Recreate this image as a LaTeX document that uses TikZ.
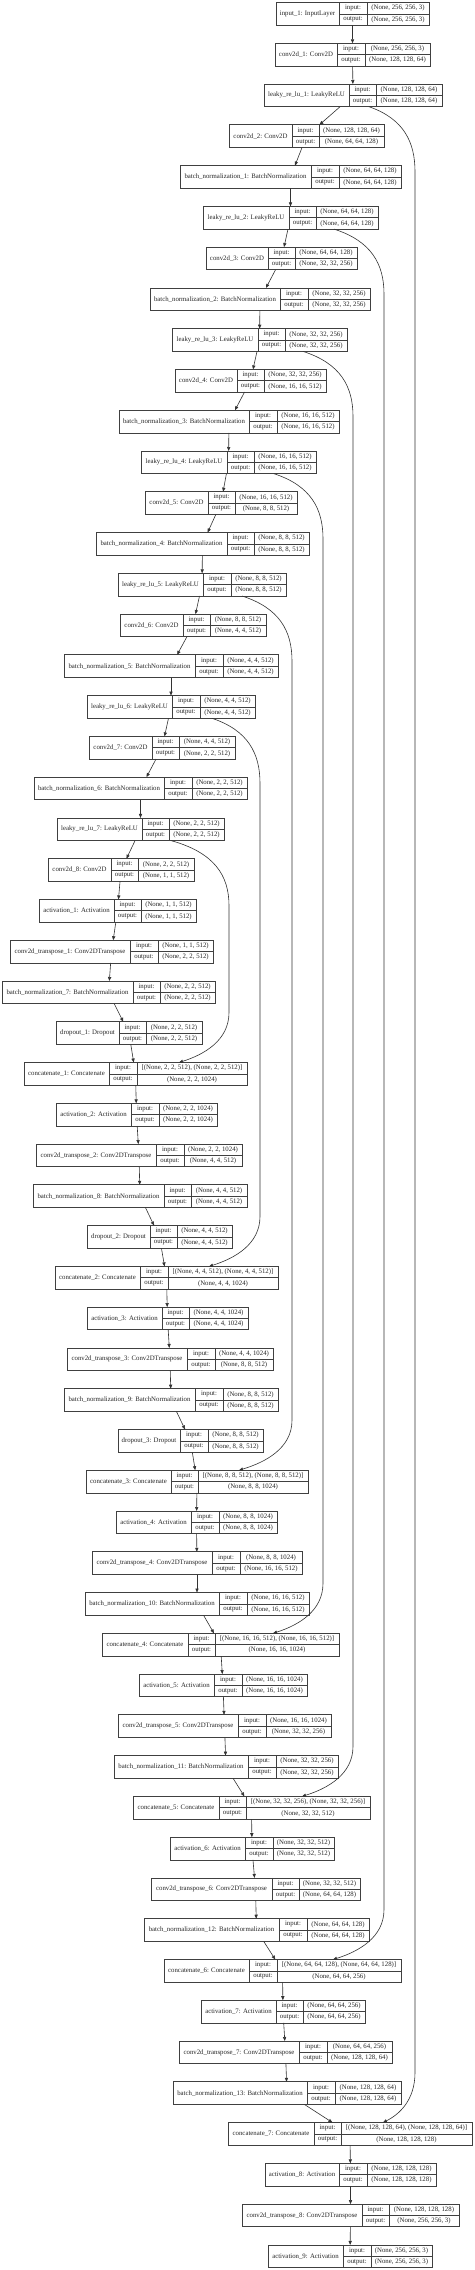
\documentclass[tikz,border=0pt]{standalone}
\usepackage{fontspec}
\setmainfont{Liberation Serif}
\usetikzlibrary{arrows.meta,calc}
\tikzset{
  box/.style={draw=black!75, line width=0.7pt, inner sep=0pt, outer sep=0pt, rectangle},
  divl/.style={draw=black!75, line width=0.7pt},
  txt/.style={inner sep=0pt, text=black!85, font=\fontsize{6.8}{8}\selectfont},
  edge/.style={draw=black!80, line width=0.6pt, -{Triangle[length=4pt,width=3.2pt]}},
}
\newcommand\lay[9]{%
  \pgfmathsetmacro\lyT{#6}%
  \pgfmathsetmacro\lyB{#6+22.7}%
  \pgfmathsetmacro\lyM{#6+11.35}%
  \pgfmathsetmacro\lyA{#6+5.675}%
  \pgfmathsetmacro\lyC{#6+17.025}%
  \pgfmathsetmacro\lyW{#5-#2}%
  \node[box, minimum width=\lyW pt, minimum height=22.7pt, anchor=north west] (#1) at (#2,\lyT) {};
  \draw[divl] (#3,\lyT) -- (#3,\lyB) (#4,\lyT) -- (#4,\lyB) (#3,\lyM) -- (#5,\lyM);
  \node[txt] (#1-n) at ({(#2+#3)/2},\lyM) {#7};
  \node[txt] (#1-i) at ({(#3+#4)/2},\lyA) {input:};
  \node[txt] (#1-o) at ({(#3+#4)/2},\lyC) {output:};
  \node[txt] (#1-iv) at ({(#4+#5)/2},\lyA) {#8};
  \node[txt] (#1-ov) at ({(#4+#5)/2},\lyC) {#9};
}
\newcommand\skipe[5]{%
  \draw[edge] let \p1=([xshift=#2pt]#1.south), \p2=([xshift=#4pt]#3.north) in
    (\p1) .. controls ({\x1+0.75*(#5pt-\x1)},{\y1-12pt}) and (#5pt,{\y1-35pt}) .. (#5pt,{\y1-65pt})
    -- (#5pt,{\y2+50pt}) .. controls (#5pt,{\y2+22pt}) and ({\x2+0.5*(#5pt-\x2)},{\y2+8pt}) .. (\p2);
}
\begin{document}
\begin{tikzpicture}[x=1pt,y=-1pt]
\fill[white] (0,0) rectangle (474,2270);
\useasboundingbox (0,0) rectangle (474,2270);
\lay{n0}{276}{339}{367}{429}{2.5}{input\_1: InputLayer}{(None, 256, 256, 3)}{(None, 256, 256, 3)}
\lay{n1}{275}{337}{365}{430}{43.3}{conv2d\_1: Conv2D}{(None, 256, 256, 3)}{(None, 128, 128, 64)}
\lay{n2}{264}{349}{376}{442}{84.0}{leaky\_re\_lu\_1: LeakyReLU}{(None, 128, 128, 64)}{(None, 128, 128, 64)}
\lay{n3}{229}{292}{319}{384}{124.8}{conv2d\_2: Conv2D}{(None, 128, 128, 64)}{(None, 64, 64, 128)}
\lay{n4}{180}{311}{339}{401}{165.6}{batch\_normalization\_1: BatchNormalization}{(None, 64, 64, 128)}{(None, 64, 64, 128)}
\lay{n5}{203}{289}{316}{378}{206.4}{leaky\_re\_lu\_2: LeakyReLU}{(None, 64, 64, 128)}{(None, 64, 64, 128)}
\lay{n6}{206}{268}{295}{357}{247.1}{conv2d\_3: Conv2D}{(None, 64, 64, 128)}{(None, 32, 32, 256)}
\lay{n7}{150}{280}{308}{370}{287.9}{batch\_normalization\_2: BatchNormalization}{(None, 32, 32, 256)}{(None, 32, 32, 256)}
\lay{n8}{172}{258}{285}{347}{328.7}{leaky\_re\_lu\_3: LeakyReLU}{(None, 32, 32, 256)}{(None, 32, 32, 256)}
\lay{n9}{175}{237}{264}{326}{369.4}{conv2d\_4: Conv2D}{(None, 32, 32, 256)}{(None, 16, 16, 512)}
\lay{n10}{119}{249}{277}{339}{410.2}{batch\_normalization\_3: BatchNormalization}{(None, 16, 16, 512)}{(None, 16, 16, 512)}
\lay{n11}{141}{227}{254}{316}{451.0}{leaky\_re\_lu\_4: LeakyReLU}{(None, 16, 16, 512)}{(None, 16, 16, 512)}
\lay{n12}{145}{208}{235}{297}{491.7}{conv2d\_5: Conv2D}{(None, 16, 16, 512)}{(None, 8, 8, 512)}
\lay{n13}{96}{227}{254}{309}{532.5}{batch\_normalization\_4: BatchNormalization}{(None, 8, 8, 512)}{(None, 8, 8, 512)}
\lay{n14}{118}{203}{231}{286}{573.3}{leaky\_re\_lu\_5: LeakyReLU}{(None, 8, 8, 512)}{(None, 8, 8, 512)}
\lay{n15}{120}{183}{210}{266}{614.1}{conv2d\_6: Conv2D}{(None, 8, 8, 512)}{(None, 4, 4, 512)}
\lay{n16}{64}{195}{223}{278}{654.8}{batch\_normalization\_5: BatchNormalization}{(None, 4, 4, 512)}{(None, 4, 4, 512)}
\lay{n17}{87}{172}{200}{255}{695.6}{leaky\_re\_lu\_6: LeakyReLU}{(None, 4, 4, 512)}{(None, 4, 4, 512)}
\lay{n18}{89}{152}{179}{235}{736.4}{conv2d\_7: Conv2D}{(None, 4, 4, 512)}{(None, 2, 2, 512)}
\lay{n19}{34}{164}{192}{247}{777.1}{batch\_normalization\_6: BatchNormalization}{(None, 2, 2, 512)}{(None, 2, 2, 512)}
\lay{n20}{57}{142}{169}{224}{817.9}{leaky\_re\_lu\_7: LeakyReLU}{(None, 2, 2, 512)}{(None, 2, 2, 512)}
\lay{n21}{48}{111}{138}{194}{858.7}{conv2d\_8: Conv2D}{(None, 2, 2, 512)}{(None, 1, 1, 512)}
\lay{n22}{39}{114}{141}{196}{899.4}{activation\_1: Activation}{(None, 1, 1, 512)}{(None, 1, 1, 512)}
\lay{n23}{10}{130}{158}{213}{940.2}{conv2d\_transpose\_1: Conv2DTranspose}{(None, 1, 1, 512)}{(None, 2, 2, 512)}
\lay{n24}{2}{133}{160}{215}{981.0}{batch\_normalization\_7: BatchNormalization}{(None, 2, 2, 512)}{(None, 2, 2, 512)}
\lay{n25}{56}{119}{146}{202}{1021.8}{dropout\_1: Dropout}{(None, 2, 2, 512)}{(None, 2, 2, 512)}
\lay{n26}{24}{109}{137}{247}{1062.5}{concatenate\_1: Concatenate}{[(None, 2, 2, 512), (None, 2, 2, 512)]}{(None, 2, 2, 1024)}
\lay{n27}{56}{131}{159}{217}{1103.3}{activation\_2: Activation}{(None, 2, 2, 1024)}{(None, 2, 2, 1024)}
\lay{n28}{36}{156}{184}{242}{1144.1}{conv2d\_transpose\_2: Conv2DTranspose}{(None, 2, 2, 1024)}{(None, 4, 4, 512)}
\lay{n29}{33}{164}{191}{247}{1184.8}{batch\_normalization\_8: BatchNormalization}{(None, 4, 4, 512)}{(None, 4, 4, 512)}
\lay{n30}{87}{150}{177}{232}{1225.6}{dropout\_2: Dropout}{(None, 4, 4, 512)}{(None, 4, 4, 512)}
\lay{n31}{55}{140}{168}{278}{1266.4}{concatenate\_2: Concatenate}{[(None, 4, 4, 512), (None, 4, 4, 512)]}{(None, 4, 4, 1024)}
\lay{n32}{87}{162}{189}{248}{1307.1}{activation\_3: Activation}{(None, 4, 4, 1024)}{(None, 4, 4, 1024)}
\lay{n33}{67}{187}{215}{273}{1347.9}{conv2d\_transpose\_3: Conv2DTranspose}{(None, 4, 4, 1024)}{(None, 8, 8, 512)}
\lay{n34}{64}{195}{223}{278}{1388.7}{batch\_normalization\_9: BatchNormalization}{(None, 8, 8, 512)}{(None, 8, 8, 512)}
\lay{n35}{118}{180}{208}{263}{1429.5}{dropout\_3: Dropout}{(None, 8, 8, 512)}{(None, 8, 8, 512)}
\lay{n36}{86}{171}{198}{308}{1470.2}{concatenate\_3: Concatenate}{[(None, 8, 8, 512), (None, 8, 8, 512)]}{(None, 8, 8, 1024)}
\lay{n37}{116}{191}{219}{277}{1511.0}{activation\_4: Activation}{(None, 8, 8, 1024)}{(None, 8, 8, 1024)}
\lay{n38}{92}{212}{240}{302}{1551.8}{conv2d\_transpose\_4: Conv2DTranspose}{(None, 8, 8, 1024)}{(None, 16, 16, 512)}
\lay{n39}{85}{219}{247}{309}{1592.5}{batch\_normalization\_10: BatchNormalization}{(None, 16, 16, 512)}{(None, 16, 16, 512)}
\lay{n40}{102}{188}{215}{339}{1633.3}{concatenate\_4: Concatenate}{[(None, 16, 16, 512), (None, 16, 16, 512)]}{(None, 16, 16, 1024)}
\lay{n41}{139}{214}{242}{307}{1674.1}{activation\_5: Activation}{(None, 16, 16, 1024)}{(None, 16, 16, 1024)}
\lay{n42}{118}{238}{266}{331}{1714.8}{conv2d\_transpose\_5: Conv2DTranspose}{(None, 16, 16, 1024)}{(None, 32, 32, 256)}
\lay{n43}{114}{248}{276}{338}{1755.6}{batch\_normalization\_11: BatchNormalization}{(None, 32, 32, 256)}{(None, 32, 32, 256)}
\lay{n44}{133}{219}{246}{370}{1796.4}{concatenate\_5: Concatenate}{[(None, 32, 32, 256), (None, 32, 32, 256)]}{(None, 32, 32, 512)}
\lay{n45}{170}{245}{273}{334}{1837.2}{activation\_6: Activation}{(None, 32, 32, 512)}{(None, 32, 32, 512)}
\lay{n46}{151}{272}{299}{360}{1877.9}{conv2d\_transpose\_6: Conv2DTranspose}{(None, 32, 32, 512)}{(None, 64, 64, 128)}
\lay{n47}{144}{279}{307}{369}{1918.7}{batch\_normalization\_12: BatchNormalization}{(None, 64, 64, 128)}{(None, 64, 64, 128)}
\lay{n48}{164}{249}{277}{401}{1959.5}{concatenate\_6: Concatenate}{[(None, 64, 64, 128), (None, 64, 64, 128)]}{(None, 64, 64, 256)}
\lay{n49}{201}{276}{303}{365}{2000.2}{activation\_7: Activation}{(None, 64, 64, 256)}{(None, 64, 64, 256)}
\lay{n50}{179}{299}{327}{392}{2041.0}{conv2d\_transpose\_7: Conv2DTranspose}{(None, 64, 64, 256)}{(None, 128, 128, 64)}
\lay{n51}{173}{307}{335}{401}{2081.8}{batch\_normalization\_13: BatchNormalization}{(None, 128, 128, 64)}{(None, 128, 128, 64)}
\lay{n52}{228}{314}{341}{472}{2122.5}{concatenate\_7: Concatenate}{[(None, 128, 128, 64), (None, 128, 128, 64)]}{(None, 128, 128, 128)}
\lay{n53}{265}{339}{367}{436}{2163.3}{activation\_8: Activation}{(None, 128, 128, 128)}{(None, 128, 128, 128)}
\lay{n54}{242}{362}{389}{459}{2204.1}{conv2d\_transpose\_8: Conv2DTranspose}{(None, 128, 128, 128)}{(None, 256, 256, 3)}
\lay{n55}{268}{343}{371}{432}{2244.9}{activation\_9: Activation}{(None, 256, 256, 3)}{(None, 256, 256, 3)}
\foreach \i [evaluate=\i as \j using int(\i+1)] in {0,...,54} \draw[edge] (n\i) -- (n\j);
\skipe{n2}{16}{n52}{33}{415}
\skipe{n5}{43.5}{n48}{50.5}{384}
\skipe{n8}{43.5}{n44}{50.5}{353}
\skipe{n11}{45.5}{n40}{52.5}{323}
\skipe{n14}{40}{n36}{42}{292}
\skipe{n17}{41}{n31}{42.5}{260}
\skipe{n20}{30.5}{n26}{43.5}{229}
\end{tikzpicture}
\end{document}
